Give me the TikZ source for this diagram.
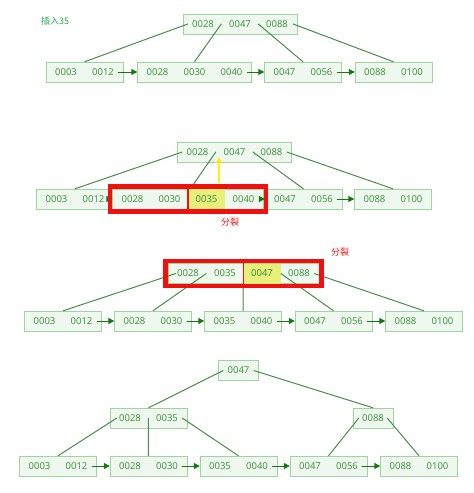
\documentclass[tikz,border=0pt]{standalone}
\usepackage{fontspec}
\setmainfont{Open Sans}
\newfontfamily\cjk{Noto Sans CJK SC}
\usepackage{tikz}
\usetikzlibrary{arrows.meta}
\usepackage{xcolor}

\definecolor{nodefill}{HTML}{EEF8EE}
\definecolor{nodeline}{HTML}{9ED49E}
\definecolor{keytext}{HTML}{3A8E3A}
\definecolor{linkline}{HTML}{4A8C4A}
\definecolor{nextarrow}{HTML}{117A11}
\definecolor{hlyellow}{HTML}{E6F07A}
\definecolor{insgreen}{HTML}{2AA44A}
\definecolor{splitred}{HTML}{F01010}

% uma chave dentro do nó
\newcommand{\ky}[1]{\makebox[37pt]{\rule[-6.6pt]{0pt}{20pt}#1}}
\newcommand{\kyhl}[1]{{\setlength{\fboxsep}{0pt}\colorbox{hlyellow}{\ky{#1}}}}

\tikzset{
  bnode/.style={draw=nodeline, fill=nodefill, text=keytext, inner xsep=1.5pt, inner ysep=0pt,
    font=\fontsize{9.5}{11}\selectfont},
  ptr/.style={draw=linkline, line width=1pt},
  nextptr/.style={draw=nextarrow, line width=1pt, -{Triangle[length=6pt,width=6pt]}},
  splitbox/.style={draw=splitred, line width=4.5pt},
  splitline/.style={draw=splitred, line width=1.5pt},
  promote/.style={draw=yellow, line width=1.3pt, -{Stealth[length=6pt,width=6pt]}},
  note/.style={font=\cjk\fontsize{9}{11}\selectfont},
}

\begin{document}
\begin{tikzpicture}[x=1pt,y=-1pt]
    \useasboundingbox (0,0) rectangle (474,493);

    % Passo 1: inserir 35
    \node[note, text=insgreen] (ins) at (55,21) {插入35};
    \node[bnode] (t1) at (240,24) {\ky{0028}\ky{0047}\ky{0088}};
    \node[bnode] (a1) at (84.5,72) {\ky{0003}\ky{0012}};
    \node[bnode] (a2) at (194.5,72) {\ky{0028}\ky{0030}\ky{0040}};
    \node[bnode] (a3) at (303,72) {\ky{0047}\ky{0056}};
    \node[bnode] (a4) at (393.5,72) {\ky{0088}\ky{0100}};
    \draw[ptr] ([xshift=5pt]t1.west) -- (a1.north);
    \draw[ptr] ([xshift=38.5pt]t1.west) -- (a2.north);
    \draw[ptr] ([xshift=75.5pt]t1.west) -- (a3.north);
    \draw[ptr] ([xshift=-4pt]t1.east) -- (a4.north);
    \draw[nextptr] ([xshift=-5pt]a1.east) -- (a2.west);
    \draw[nextptr] ([xshift=-5pt]a2.east) -- (a3.west);
    \draw[nextptr] ([xshift=-5pt]a3.east) -- (a4.west);

    % Passo 2: folha cheia, divide
    \node[bnode] (t2) at (234.5,152) {\ky{0028}\ky{0047}\ky{0088}};
    \node[bnode] (b1) at (75,199) {\ky{0003}\ky{0012}};
    \node[bnode] (b2) at (188,199) {\ky{0028}\ky{0030}\kyhl{0035}\ky{0040}};
    \node[bnode] (b3) at (303.5,199) {\ky{0047}\ky{0056}};
    \node[bnode] (b4) at (393,199) {\ky{0088}\ky{0100}};
    \draw[ptr] ([xshift=5pt]t2.west) -- (b1.north);
    \draw[ptr] ([xshift=38.5pt]t2.west) -- ([xshift=78pt]b2.north west);
    \draw[ptr] ([xshift=75.5pt]t2.west) -- (b3.north);
    \draw[ptr] ([xshift=-5pt]t2.east) -- (b4.north);
    \draw[nextptr] ([xshift=-5pt]b1.east) -- (b2.west);
    \draw[nextptr] ([xshift=-5pt]b2.east) -- (b3.west);
    \draw[nextptr] ([xshift=-5pt]b3.east) -- (b4.west);
    \draw[splitbox] ([xshift=-2.2pt,yshift=2.2pt]b2.north west) rectangle ([xshift=2.2pt,yshift=-2.2pt]b2.south east);
    \draw[splitline] ([xshift=75.5pt]b2.north west) -- ([xshift=75.5pt]b2.south west);
    \coordinate (rise0) at (219,183);
    \coordinate (rise1) at (219,157);
    \draw[promote] (rise0) -- (rise1);
    \node[note, text=splitred] (split1) at (230,222) {分裂};

    % Passo 3: o pai também divide
    \node[note, text=splitred] (split2) at (340,252) {分裂};
    \node[bnode] (c0) at (243.5,273.5) {\ky{0028}\ky{0035}\kyhl{0047}\ky{0088}};
    \node[bnode] (c1) at (63,321) {\ky{0003}\ky{0012}};
    \node[bnode] (c2) at (153,321) {\ky{0028}\ky{0030}};
    \node[bnode] (c3) at (243,321) {\ky{0035}\ky{0040}};
    \node[bnode] (c4) at (333.5,321) {\ky{0047}\ky{0056}};
    \node[bnode] (c5) at (424,321) {\ky{0088}\ky{0100}};
    \draw[ptr] ([xshift=8pt]c0.west) -- (c1.north);
    \draw[ptr] ([xshift=38.5pt]c0.west) -- (c2.north);
    \draw[ptr] ([xshift=75.5pt]c0.south west) -- (c3.north);
    \draw[ptr] ([xshift=113pt]c0.west) -- (c4.north);
    \draw[ptr] ([xshift=-5pt]c0.east) -- (c5.north);
    \draw[nextptr] ([xshift=-5pt]c1.east) -- (c2.west);
    \draw[nextptr] ([xshift=-5pt]c2.east) -- (c3.west);
    \draw[nextptr] ([xshift=-5pt]c3.east) -- (c4.west);
    \draw[nextptr] ([xshift=-5pt]c4.east) -- (c5.west);
    \draw[splitbox] ([xshift=-2.2pt,yshift=2.2pt]c0.north west) rectangle ([xshift=2.2pt,yshift=-2.2pt]c0.south east);
    \draw[splitline] ([xshift=75.5pt]c0.north west) -- ([xshift=75.5pt]c0.south west);

    % Passo 4: nova raiz
    \node[bnode] (d0) at (238.5,370.5) {\ky{0047}};
    \node[bnode] (dl) at (148.5,418) {\ky{0028}\ky{0035}};
    \node[bnode] (dr) at (373,418) {\ky{0088}};
    \node[bnode] (e1) at (58,466) {\ky{0003}\ky{0012}};
    \node[bnode] (e2) at (148.5,466) {\ky{0028}\ky{0030}};
    \node[bnode] (e3) at (238.5,466) {\ky{0035}\ky{0040}};
    \node[bnode] (e4) at (328.5,466) {\ky{0047}\ky{0056}};
    \node[bnode] (e5) at (419,466) {\ky{0088}\ky{0100}};
    \draw[ptr] ([xshift=5pt]d0.west) -- (dl.north);
    \draw[ptr] ([xshift=-5pt]d0.east) -- (dr.north);
    \draw[ptr] ([xshift=7pt]dl.west) -- (e1.north);
    \draw[ptr] ([xshift=38.5pt]dl.west) -- (e2.north);
    \draw[ptr] ([xshift=-5pt]dl.east) -- (e3.north);
    \draw[ptr] ([xshift=6pt]dr.west) -- (e4.north);
    \draw[ptr] ([xshift=-6pt]dr.east) -- (e5.north);
    \draw[nextptr] ([xshift=-5pt]e1.east) -- (e2.west);
    \draw[nextptr] ([xshift=-5pt]e2.east) -- (e3.west);
    \draw[nextptr] ([xshift=-5pt]e3.east) -- (e4.west);
    \draw[nextptr] ([xshift=-5pt]e4.east) -- (e5.west);
\end{tikzpicture}
\end{document}
